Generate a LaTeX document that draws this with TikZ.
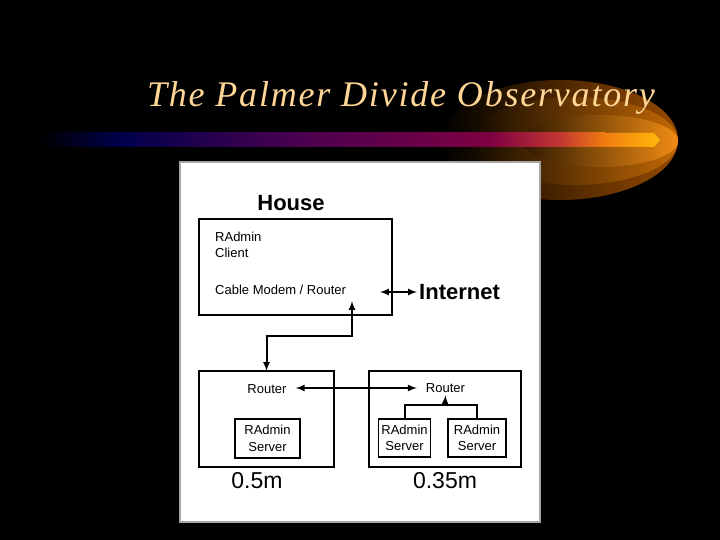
\documentclass[tikz,border=0pt]{standalone}
\usepackage{fontspec}
\setmainfont{Liberation Sans}
\newfontfamily\titlefont[LetterSpace=5]{Liberation Serif}
\usetikzlibrary{arrows, shapes, positioning}

\definecolor{titlecol}{RGB}{255,214,150}
\definecolor{navybar}{RGB}{0,0,75}
\definecolor{purplebar}{RGB}{75,0,80}
\definecolor{magbar}{RGB}{125,0,65}
\definecolor{redbar}{RGB}{195,55,50}
\definecolor{orangebar}{RGB}{240,125,15}
\definecolor{yellowbar}{RGB}{255,185,10}
\definecolor{glowA}{RGB}{150,75,0}
\definecolor{glowAleft}{RGB}{19,10,0}
\definecolor{glowB}{RGB}{195,105,5}
\definecolor{glowBleft}{RGB}{46,24,0}
\definecolor{glowC}{RGB}{240,140,20}

\tikzset{
  box/.style={draw, line width=1.6pt, inner sep=0pt, outer sep=0pt},
  small/.style={font=\fontsize{13}{16.5}\selectfont, inner sep=3pt},
  large/.style={font=\fontsize{23}{26}\selectfont, inner sep=2pt},
  link/.style={line width=2pt},
}

\begin{document}
\begin{tikzpicture}[x=1pt, y=-1pt, >=latex]
        % background and panel
        \fill[black] (0,0) rectangle (720,540);
        \shade[left color=black, right color=glowA] (560,140) ellipse [x radius=118, y radius=60];
        \shade[left color=glowAleft, right color=glowB] (575,141) ellipse [x radius=103, y radius=44];
        \shade[left color=glowBleft, right color=glowC] (600,141) ellipse [x radius=78, y radius=26];
        \shade[left color=black, right color=navybar] (40,133) rectangle (120,147);
        \shade[left color=navybar, right color=purplebar] (120,133) rectangle (300,147);
        \shade[left color=purplebar, right color=magbar] (300,133) rectangle (490,147);
        \shade[left color=magbar, right color=redbar] (490,133) rectangle (560,147);
        \shade[left color=redbar, right color=orangebar] (560,133) rectangle (605,147);
        \shade[left color=orangebar, right color=yellowbar] (605,133) -- (654,133) -- (660,140) -- (654,147) -- (605,147) -- cycle;
        \node[text=titlecol, font=\titlefont\itshape\fontsize{36}{40}\selectfont, anchor=base] (title) at (401,107) {The Palmer Divide Observatory};
        \fill[white, draw=gray!70, line width=1.5pt] (180,162) rectangle (540,522);

        % house
        \node[large, font=\bfseries\fontsize{22}{26}\selectfont, anchor=base] (houselbl) at (291,211) {House};
        \node[box, minimum width=193, minimum height=96] (house) at (295.5,267) {};
        \node[small, anchor=base west] (radmin) at (212,241) {RAdmin};
        \node[small, anchor=base west] (client) at (212,257.5) {Client};
        \node[small, anchor=base west] (modem) at (212,294) {Cable Modem / Router};
        \node[large, font=\bfseries\fontsize{22}{26}\selectfont, anchor=base west] (internet) at (417,299) {Internet};
        \coordinate (modemout) at (380,292);
        \coordinate (modemin) at (352,301);
        \coordinate (turn) at (352,336);

        % sites
        \node[box, minimum width=135, minimum height=96] (lsite) at (266.5,419) {};
        \node[box, minimum width=152, minimum height=96] (rsite) at (445,419) {};
        \node[small, anchor=base] (lrouter) at (267,393) {Router};
        \node[small, anchor=base] (rrouter) at (445.5,392) {Router};
        \node[box, small, align=center, minimum width=65, minimum height=39] (lserver) at (267.5,438.5) {RAdmin\\Server};
        \node[box, small, align=center, minimum width=49, minimum height=38] (rserverA) at (404.5,438) {RAdmin\\Server};
        \node[box, small, align=center, minimum width=58, minimum height=38] (rserverB) at (477,438) {RAdmin\\Server};
        \coordinate (branch) at (445,405);
        \coordinate (wire) at (0,388);
        \node[large, anchor=base] (lsize) at (257,488) {0.5m};
        \node[large, anchor=base] (rsize) at (445,488) {0.35m};

        \draw[<->, link] (modemout) -- (modemout -| internet.west);
        \draw[<->, link] ([xshift=6pt]lrouter.east |- wire) -- ([xshift=-6pt]rrouter.west |- wire);
        \draw[<->, link] (lsite.north) |- (turn) -- (modemin);
        \draw[link] (rserverA.north) |- (branch) -| (rserverB.north);
        \draw[->, link] (branch) -- (rrouter.south);
\end{tikzpicture}
\end{document}
